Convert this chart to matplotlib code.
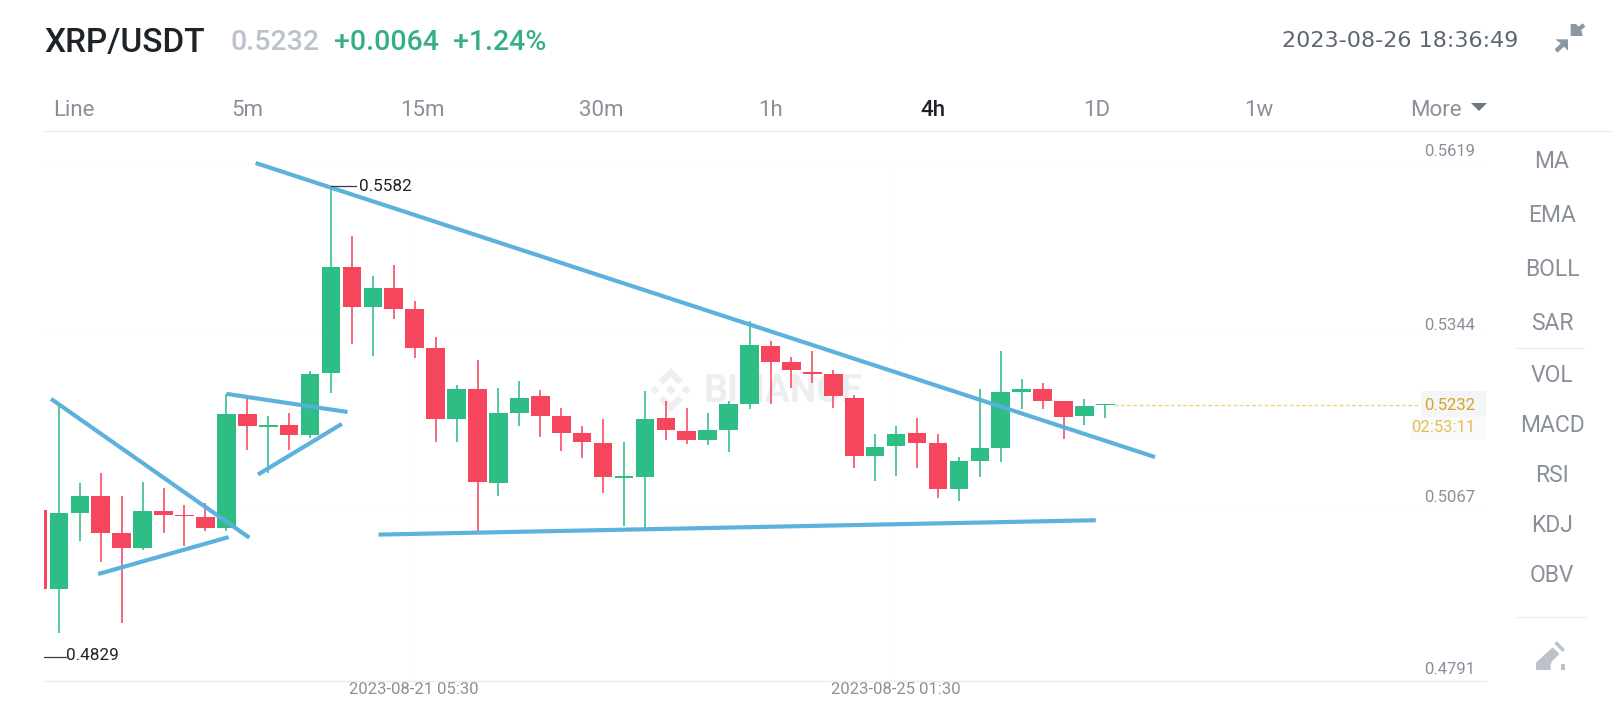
import matplotlib
matplotlib.use("Agg")
import matplotlib.pyplot as plt
from matplotlib.patches import Polygon, Rectangle

plt.rcParams['font.family'] = ['Roboto', 'DejaVu Sans']

# ---- data ----
opens  = [.5064,.4938,.5060,.5087,.5027,.5003,.5062,.5057,.5053,.5036,.5217,.5197,.5200,.5185,.5284,
          .5453,.5389,.5419,.5385,.5323,.5210,.5258,.5108,.5220,.5246,.5215,.5187,.5172,.5116,.5117,
          .5211,.5191,.5176,.5193,.5233,.5327,.5301,.5285,.5281,.5244,.5151,.5166,.5187,.5171,.5098,
          .5142,.5163,.5253,.5258,.5238,.5215,.5232]
closes = [.4938,.5060,.5086,.5027,.5003,.5062,.5056,.5055,.5036,.5218,.5198,.5200,.5185,.5282,.5453,
          .5389,.5419,.5385,.5324,.5210,.5258,.5109,.5219,.5244,.5215,.5187,.5173,.5117,.5118,.5210,
          .5192,.5176,.5193,.5233,.5328,.5301,.5288,.5282,.5246,.5151,.5165,.5186,.5171,.5098,.5142,
          .5163,.5253,.5258,.5239,.5213,.5231,.5234]
highs  = [.5064,.5232,.5107,.5124,.5087,.5109,.5100,.5073,.5075,.5250,.5244,.5214,.5219,.5287,.5582,
          .5502,.5439,.5456,.5398,.5341,.5264,.5304,.5260,.5270,.5256,.5227,.5199,.5209,.5173,.5255,
          .5239,.5228,.5220,.5239,.5367,.5334,.5309,.5319,.5288,.5248,.5186,.5199,.5211,.5186,.5149,
          .5258,.5319,.5274,.5267,.5238,.5242,.5234]
lows   = [.4938,.4868,.5015,.4982,.4884,.5001,.5028,.5007,.5030,.5031,.5161,.5124,.5161,.5180,.5251,
          .5330,.5310,.5369,.5308,.5173,.5173,.5031,.5087,.5199,.5181,.5158,.5147,.5091,.5039,.5035,
          .5176,.5170,.5169,.5157,.5225,.5233,.5260,.5267,.5227,.5132,.5111,.5118,.5131,.5084,.5078,
          .5117,.5141,.5225,.5226,.5178,.5201,.5211]
first_index = -1

y_ticks = [0.5619, 0.5344, 0.5067, 0.4791]
date_labels = ["2023-08-21 05:30", "2023-08-25 01:30"]
date_positions = [16.95, 39.97]
period_tabs = ["Line", "5m", "15m", "30m", "1h", "4h", "1D", "1w", "More"]
indicators = ["MA", "EMA", "BOLL", "SAR", "VOL", "MACD", "RSI", "KDJ", "OBV"]

last_price = 0.5232
max_price = 0.5582
min_price = 0.4829
trend_lines = [
    ((-0.377, 0.5242), (9.10, 0.5020)),
    ((1.878, 0.4962), (8.11, 0.5021)),
    ((8.00, 0.5250), (13.79, 0.5221)),
    ((9.51, 0.5121), (13.52, 0.5202)),
    ((15.27, 0.5025), (49.54, 0.5048)),
    ((9.40, 0.5619), (52.37, 0.5149)),
]

GREEN, RED, BLUE = '#2ebd85', '#f6465d', '#58b0dc'
W, H = 1612, 720
fig = plt.figure(figsize=(W/100, H/100), dpi=100, facecolor='white')

# overlay in pixel coordinates for the app chrome
ui = fig.add_axes([0, 0, 1, 1], zorder=1)
ui.set_xlim(0, W); ui.set_ylim(H, 0); ui.axis('off')

def T(x, y, s, size, color, ha='center', weight='normal', **kw):
    ui.text(x, y, s, fontsize=size, color=color, ha=ha, va='center', fontweight=weight, **kw)

T(44, 43, "XRP/USDT", 24, '#1e2329', ha='left', weight='medium')
T(231, 43, "0.5232", 20.5, '#bcc2cc', ha='left', weight='medium')
T(334, 43, "+0.0064", 20.5, '#35b083', ha='left', weight='medium')
T(453, 43, "+1.24%", 20.5, '#35b083', ha='left', weight='medium')
T(1518, 41, "2023-08-26 18:36:49", 16, '#5e6673', ha='right', family='DejaVu Sans')

tab_x = [74, 247, 422, 601, 771, 933, 1097, 1259, 1436]
for x, s in zip(tab_x, period_tabs):
    dark = s == "4h"
    T(x, 111, s, 16, '#1e2329' if dark else '#8a9099', weight='medium' if dark else 'normal')
ui.add_patch(Polygon([(1471, 103), (1487, 103), (1479, 111)], fc='#6f7784', ec='none'))
ui.plot([44, W], [131, 131], color='#e9ebee', lw=1)

for y, s in zip([161, 215, 269, 323, 376, 426, 476, 526, 576], indicators):
    T(1552, y, s, 16.5, '#8a9099')
ui.plot([1516, 1584], [348, 348], color='#e9ebee', lw=1)
ui.plot([1516, 1586], [617, 617], color='#e9ebee', lw=1)

# compress icon
def px(o, pts):
    return [(o[0] + a/3, o[1] + b/3) for a, b in pts]
ICON = '#8d96a3'
ui.add_patch(Polygon(px((1540, 10), [(92, 42), (108, 42), (116, 50), (128, 40), (136, 50), (124, 60), (128, 78), (92, 78)]), fc=ICON, ec='none'))
ui.add_patch(Polygon(px((1540, 10), [(46, 88), (84, 88), (84, 122), (72, 110), (52, 128), (44, 118), (62, 100)]), fc=ICON, ec='none'))
# pencil icon
PEN = '#bcc2cc'
ui.add_patch(Polygon(px((1520, 630), [(48, 98), (98, 52), (118, 72), (96, 94), (92, 103), (92, 120), (48, 120)]), fc=PEN, ec='none'))
ui.add_patch(Polygon(px((1520, 630), [(103, 42), (110, 33), (135, 58), (128, 66)]), fc=PEN, ec='none'))
ui.add_patch(Polygon(px((1520, 630), [(122, 103), (136, 103), (136, 120), (122, 120)]), fc=PEN, ec='none'))

# watermark
WM = '#eceef0'
def diamond(cx, cy, r):
    return [(cx, cy-r), (cx+r, cy), (cx, cy+r), (cx-r, cy)]
for c in [(670.7, 390, 5), (655, 390, 4.5), (686.5, 390, 4.5)]:
    ui.add_patch(Polygon(diamond(*c), fc=WM, ec='none'))
ui.add_patch(Polygon([(670.7, 368), (683, 380), (678.5, 384.5), (670.7, 377), (663, 384.5), (658.5, 380)], fc=WM, ec='none'))
ui.add_patch(Polygon([(670.7, 412), (683, 400), (678.5, 395.5), (670.7, 403), (663, 395.5), (658.5, 400)], fc=WM, ec='none'))
T(704, 391, "BINANCE", 27, WM, ha='left', weight='bold')

# chart axes
L, R, TOP, BOT = 44, 1486, 131, 681
ax = fig.add_axes([L/W, 1-BOT/H, (R-L)/W, (BOT-TOP)/H], zorder=2)
ax.patch.set_alpha(0)
scale = 6256.0
ax.set_ylim(0.4791, 0.4791 + (BOT-TOP)/scale)
step = 20.93
ax.set_xlim((L-58.9)/step, (R-58.9)/step)
for s in ['top', 'left', 'right']:
    ax.spines[s].set_visible(False)
ax.spines['bottom'].set_color('#e9ebee')
ax.spines['bottom'].set_linewidth(1)
ax.tick_params(length=0, labelleft=False, labelright=True, labelsize=12, labelcolor='#8a9099', pad=0)
ax.set_yticks([])
ax.set_xticks(date_positions)
ax.set_xticklabels(date_labels, fontsize=12, color='#8a9099')
ax.tick_params(axis='x', pad=1)
for p in y_ticks:
    ax.axhline(p, color='#fdfdfd', lw=1, zorder=0)
for p in date_positions:
    ax.axvline(p, ymax=(BOT-163)/(BOT-TOP), color='#fdfdfd', lw=1, zorder=0)

for i, (o, c, hi, lo) in enumerate(zip(opens, closes, highs, lows)):
    x = first_index + i
    col = GREEN if c >= o else RED
    ax.vlines(x, lo, hi, color=col, lw=1.15, zorder=2)
    ax.bar(x, abs(c-o), bottom=min(o, c), width=0.89, color=col, zorder=3, linewidth=0)

for (a, b) in trend_lines:
    ax.plot([a[0], b[0]], [a[1], b[1]], color=BLUE, lw=3.0, solid_capstyle='butt', zorder=5, alpha=0.97)

x_last = first_index + len(opens) - 1
x_lab = (1420-58.9)/step
ax.plot([x_last+0.4, x_lab], [last_price]*2, color='#f0d58a', lw=1, ls=(0, (3, 1.5)), zorder=1)

# extreme labels
ax.plot([13, 14.2], [max_price]*2, color='#333a42', lw=0.9, zorder=6)
ax.text(14.33, max_price, f"{max_price:.4f}", fontsize=12.3, color='#1e2329', va='center', zorder=6)
ax.plot([-0.712, 0.33], [min_price]*2, color='#333a42', lw=0.9, zorder=6)
ax.text(0.35, min_price+0.0002, f"{min_price:.4f}", fontsize=12.3, color='#1e2329', va='center', zorder=6)

# right price labels
for p, y in zip(y_ticks, [152, 325, 497, 670]):
    T(1475, y, f"{p:.4f}", 12, '#8a9099', ha='right')
ui.add_patch(Rectangle((1421, 391), 65, 26, fc='#f4f5f6', ec='none'))
ui.add_patch(Rectangle((1411, 417), 75, 23, fc='#fafafa', ec='none'))
T(1475, 406, f"{last_price:.4f}", 12, '#d4a52a', ha='right')
T(1475, 427, "02:53:11", 12, '#e6c04f', ha='right')

fig.savefig('out.png', dpi=100)
